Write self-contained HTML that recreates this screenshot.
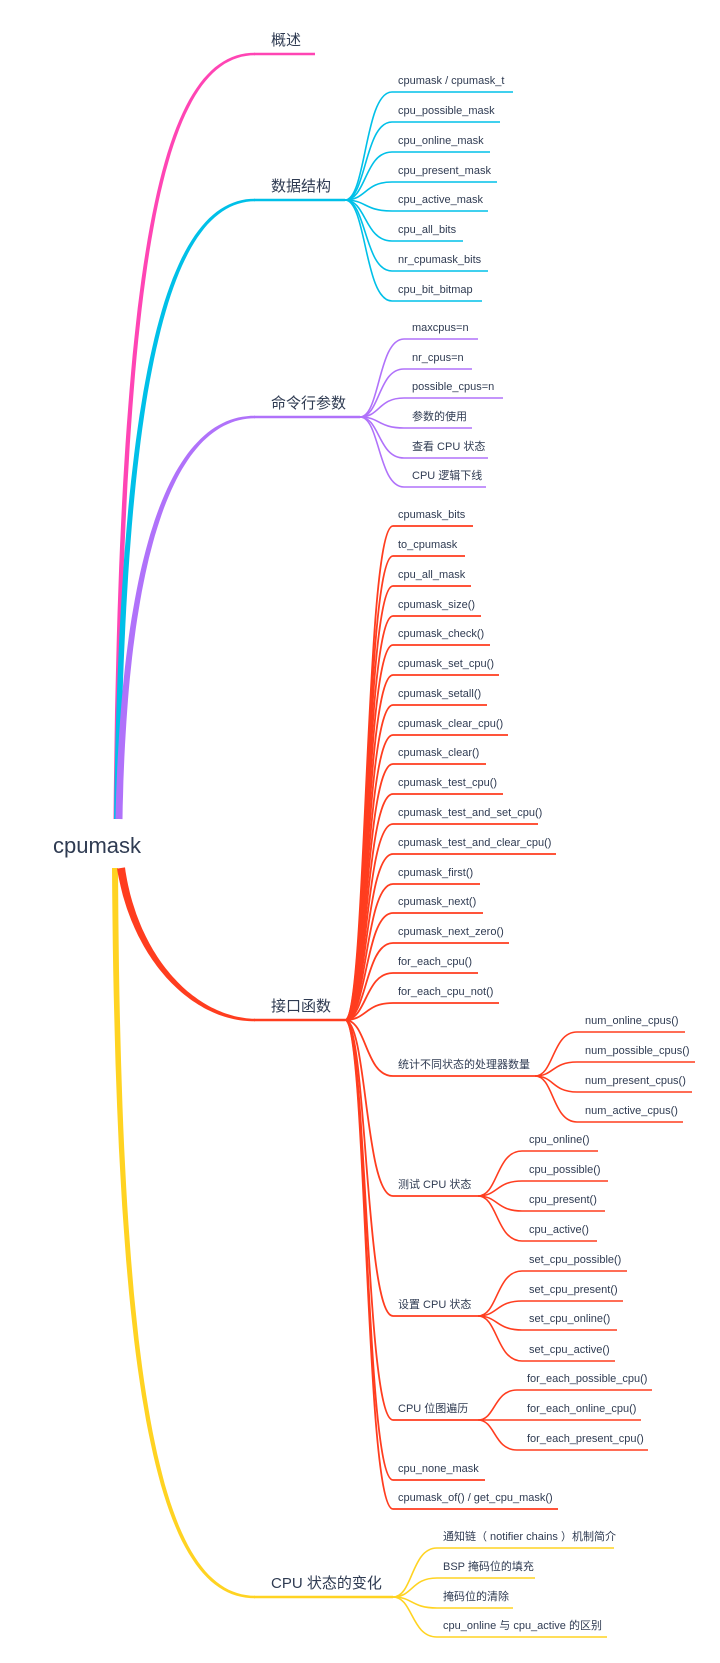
<!DOCTYPE html>
<html><head><meta charset="utf-8">
<style>
html,body{margin:0;padding:0;background:#fff;}
svg{display:block}
text{font-family:"Liberation Sans","Noto Sans CJK SC",sans-serif;fill:#2f3b52;}
.l1{font-size:15px}
.l2{font-size:11px}
</style></head>
<body>
<svg id="s" width="720" height="1663" viewBox="0 0 720 1663" xmlns="http://www.w3.org/2000/svg">
<text x="53" y="853" style="font-size:22px">cpumask</text>
</svg>
<script>
var s=document.getElementById('s');var NS='http://www.w3.org/2000/svg';
function el(t,a,txt){var e=document.createElementNS(NS,t);for(var k in a)e.setAttribute(k,a[k]);if(txt)e.textContent=txt;s.appendChild(e);return e;}
function bz(p,t){var u=1-t;return [u*u*u*p[0][0]+3*u*u*t*p[1][0]+3*u*t*t*p[2][0]+t*t*t*p[3][0],u*u*u*p[0][1]+3*u*u*t*p[1][1]+3*u*t*t*p[2][1]+t*t*t*p[3][1]];}
function taper(p,w0,w1,col){var L=[],R=[],N=60;for(var i=0;i<=N;i++){var t=i/N,a=bz(p,Math.max(0,t-0.01)),b=bz(p,Math.min(1,t+0.01)),c=bz(p,t);var dx=b[0]-a[0],dy=b[1]-a[1],l=Math.hypot(dx,dy)||1;var w=(w0+(w1-w0)*t)/2;L.push([c[0]-dy/l*w,c[1]+dx/l*w]);R.push([c[0]+dy/l*w,c[1]-dx/l*w]);}
var d='M'+L.map(q=>q[0].toFixed(1)+','+q[1].toFixed(1)).join(' L')+' L'+R.reverse().map(q=>q[0].toFixed(1)+','+q[1].toFixed(1)).join(' L')+'Z';el('path',{d:d,fill:col});}
function l1(y,x0,y0,c1,c2,col,label,endx,w0){taper([[x0,y0],c1,c2,[255,y]],w0,2.5,col);el('line',{x1:254,y1:y,x2:endx,y2:y,stroke:col,'stroke-width':2.5});el('text',{x:271,y:y-9,class:'l1'},label);}
function kids(hx,hy,sx,tx,col,items,w){items.forEach(function(it){var cy=it[1],d=sx-hx;el('path',{d:'M'+hx+','+hy+' C'+(hx+d*0.5)+','+hy+' '+(hx+d*0.45)+','+cy+' '+(sx+4)+','+cy+' L'+it[2]+','+cy,fill:'none',stroke:col,'stroke-width':w||1.6});el('text',{x:tx,y:cy-8,class:'l2'},it[0]);});}
var P='#ff45b4',C='#00c0e8',V='#b072fa',R='#ff3d1f',Y='#ffd322';
l1(54,116,819,[121,260],[160,54],P,'概述',315,5);
l1(200,117,819,[122,390],[165,200],C,'数据结构',345,6);
l1(417,119,819,[124,560],[170,417],V,'命令行参数',360,7);
l1(1597,115,868,[118,1400],[160,1597],Y,'CPU 状态的变化',393,6);
l1(1020,121,868,[135,960],[195,1020],R,'接口函数',345,8);
kids(345,200,388,398,C,[['cpumask / cpumask_t',92,513],['cpu_possible_mask',122,500],['cpu_online_mask',152,490],['cpu_present_mask',182,497],['cpu_active_mask',211,488],['cpu_all_bits',241,463],['nr_cpumask_bits',271,488],['cpu_bit_bitmap',301,482]]);
kids(360,417,400,412,V,[['maxcpus=n',339,478],['nr_cpus=n',369,472],['possible_cpus=n',398,503],['参数的使用',428,472],['查看 CPU 状态',458,488],['CPU 逻辑下线',487,486]]);
kids(345,1020,389,398,R,[['cpumask_bits',526,473],['to_cpumask',556,465],['cpu_all_mask',586,471],['cpumask_size()',616,481],['cpumask_check()',645,490],['cpumask_set_cpu()',675,499],['cpumask_setall()',705,487],['cpumask_clear_cpu()',735,508],['cpumask_clear()',764,486],['cpumask_test_cpu()',794,503],['cpumask_test_and_set_cpu()',824,538],['cpumask_test_and_clear_cpu()',854,556],['cpumask_first()',884,480],['cpumask_next()',913,483],['cpumask_next_zero()',943,509],['for_each_cpu()',973,478],['for_each_cpu_not()',1003,499],['统计不同状态的处理器数量',1076,535],['测试 CPU 状态',1196,478],['设置 CPU 状态',1316,478],['CPU 位图遍历',1420,478],['cpu_none_mask',1480,485],['cpumask_of() / get_cpu_mask()',1509,558]],1.8);
kids(535,1076,573,585,R,[['num_online_cpus()',1032,685],['num_possible_cpus()',1062,695],['num_present_cpus()',1092,692],['num_active_cpus()',1122,683]]);
kids(478,1196,518,529,R,[['cpu_online()',1151,598],['cpu_possible()',1181,608],['cpu_present()',1211,605],['cpu_active()',1241,597]]);
kids(478,1316,518,529,R,[['set_cpu_possible()',1271,627],['set_cpu_present()',1301,623],['set_cpu_online()',1330,617],['set_cpu_active()',1361,615]]);
kids(478,1420,513,527,R,[['for_each_possible_cpu()',1390,652],['for_each_online_cpu()',1420,641],['for_each_present_cpu()',1450,648]]);
kids(393,1597,433,443,Y,[['通知链（ notifier chains ）机制简介',1548,614],['BSP 掩码位的填充',1578,535],['掩码位的清除',1608,513],['cpu_online 与 cpu_active 的区别',1637,607]]);
</script>
</body></html>
